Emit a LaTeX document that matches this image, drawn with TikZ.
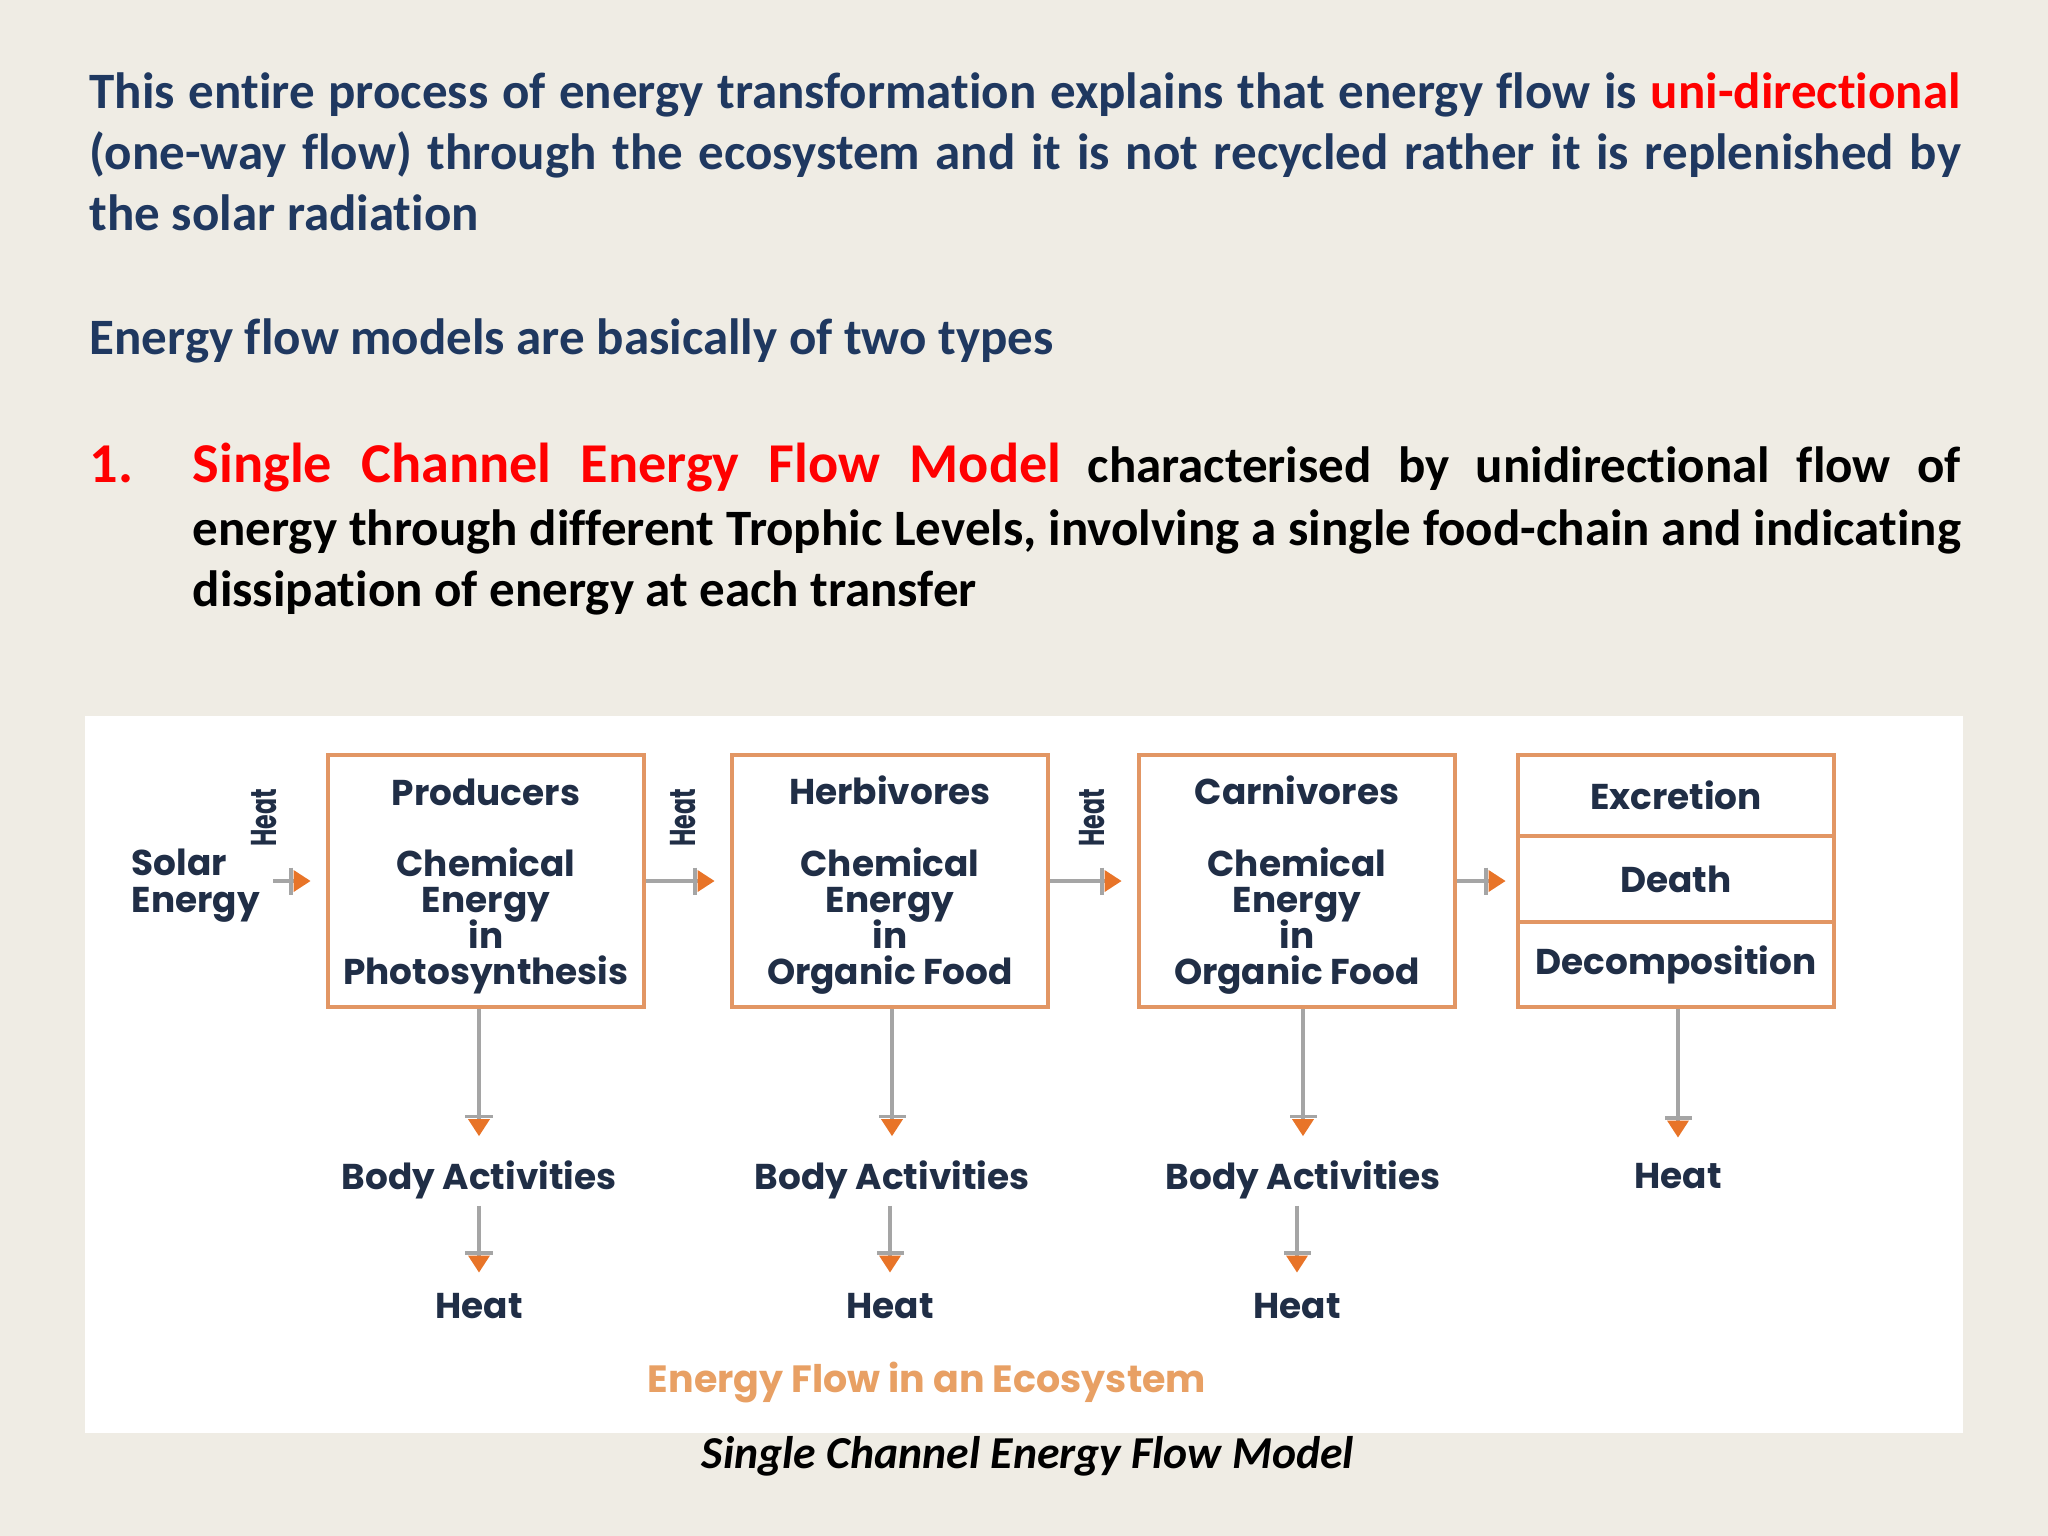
\documentclass[tikz,border=0pt]{standalone}
\usepackage{fontspec}
\usepackage{graphicx}
\setmainfont{Carlito}[Ligatures={TeX,NoCommon}]
\newfontfamily\diagfont{Poppins}
\usetikzlibrary{arrows.meta}
\newcommand{\mytight}{\setlength{\lineskiplimit}{-20pt}}
\definecolor{slidebg}{RGB}{239,236,228}
\definecolor{navy}{RGB}{31,56,96}
\definecolor{txtred}{RGB}{255,0,0}
\definecolor{boxline}{RGB}{226,150,100}
\definecolor{tipor}{RGB}{232,116,40}
\definecolor{linegray}{RGB}{165,165,165}
\definecolor{diagtext}{RGB}{32,46,70}
\definecolor{capor}{RGB}{232,160,100}
\begin{document}
\begin{tikzpicture}[x=0.01cm,y=-0.01cm,
  maintext/.style={anchor=base west,inner sep=0,font=\fontsize{14.5}{17}\selectfont\bfseries},
  stagebox/.style={draw=boxline,line width=1.3pt,fill=white,minimum width=3.16cm,minimum height=2.52cm,align=center,inner sep=0,font=\diagfont\bfseries\fontsize{10.2}{10.2}\selectfont\mytight,text=diagtext},
  subbox/.style={draw=boxline,line width=1.3pt,fill=white,minimum width=3.16cm,align=center,inner sep=0,font=\diagfont\bfseries\fontsize{10.2}{10.2}\selectfont,text=diagtext},
  dlabel/.style={inner sep=0,align=center,font=\diagfont\bfseries\fontsize{10.2}{10.6}\selectfont\mytight,text=diagtext},
  flow/.style={draw=linegray,line width=1pt,-{Bar[width=0.27cm,line width=1pt,color=linegray,sep=0.3pt] Triangle[length=0.17cm,width=0.21cm,color=tipor]}}
]
\useasboundingbox[fill=slidebg] (0,0) rectangle (2048,1536);

% ---------- slide text ----------
\node[maintext,text=navy] (p1a) at (89,108) {\makebox[18.7cm][s]{This entire process of energy transformation explains that energy flow is \textcolor{txtred}{uni-directional}}};
\node[maintext,text=navy] (p1b) at (89,169) {\makebox[18.7cm][s]{(one-way flow) through the ecosystem and it is not recycled rather it is replenished by}};
\node[maintext,text=navy] (p1c) at (89,230) {the solar radiation};
\node[maintext,text=navy] (p2) at (89,354) {Energy flow models are basically of two types};
\node[maintext,text=txtred,font=\fontsize{16}{19}\selectfont\bfseries] (num) at (89,482) {1.};
\node[maintext,text=black] (it1) at (192,482) {\makebox[17.67cm][s]{\textcolor{txtred}{\fontsize{16}{19}\selectfont Single Channel Energy Flow Model} characterised by unidirectional flow of}};
\node[maintext,text=black] (it2) at (192,545) {\makebox[17.67cm][s]{energy through different Trophic Levels, involving a single food-chain and indicating}};
\node[maintext,text=black] (it3) at (192,606) {dissipation of energy at each transfer};

% ---------- diagram ----------
\fill[white] (85,716) rectangle (1963,1433);

\node[stagebox] (prod) at (486,881) {\rule{0pt}{0.37cm}Producers\\[0.36cm]Chemical\\Energy\\in\\Photosynthesis};
\node[stagebox] (herb) at (890,881) {\rule{0pt}{0.37cm}Herbivores\\[0.36cm]Chemical\\Energy\\in\\Organic Food};
\node[stagebox] (carn) at (1297,881) {\rule{0pt}{0.37cm}Carnivores\\[0.36cm]Chemical\\Energy\\in\\Organic Food};
\node[subbox,minimum height=0.81cm] (exc) at (1676,795.5) {Excretion};
\node[subbox,minimum height=0.86cm] (death) at (1676,879) {Death};
\node[subbox,minimum height=0.85cm] (decomp) at (1676,964.5) {Decomposition};

\node[dlabel,anchor=west,align=left] (solar) at (131,886) {Solar\\Energy};
\node[dlabel,rotate=90] (h0) at (264,818) {\scalebox{0.66}[1]{Heat}};
\node[dlabel,rotate=90] (h1) at (683,818) {\scalebox{0.66}[1]{Heat}};
\node[dlabel,rotate=90] (h2) at (1092,818) {\scalebox{0.66}[1]{Heat}};

\draw[flow,shorten <=0.13cm,shorten >=0.15cm] (prod.west -| solar.east) -- (prod.west);
\draw[flow,shorten >=0.15cm] (prod.east) -- (herb.west);
\draw[flow,shorten >=0.15cm] (herb.east) -- (carn.west);
\draw[flow,shorten >=0.1cm] (carn.east) -- (carn.east -| death.west);

\node[dlabel] (ba1) at (479,1180) {Body Activities};
\node[dlabel] (ba2) at (892,1180) {Body Activities};
\node[dlabel] (ba3) at (1303,1180) {Body Activities};
\node[dlabel] (hr) at (1678,1176) {Heat};

\node[dlabel] (ht1) at (479,1306) {Heat};
\node[dlabel] (ht2) at (890,1306) {Heat};
\node[dlabel] (ht3) at (1297,1306) {Heat};

\draw[flow,shorten >=0.24cm] (ba1.north |- prod.south) -- (ba1.north);
\draw[flow,shorten >=0.24cm] (ba2.north |- herb.south) -- (ba2.north);
\draw[flow,shorten >=0.24cm] (ba3.north |- carn.south) -- (ba3.north);
\draw[flow,shorten >=0.25cm] (hr.north |- decomp.south) -- (hr.north);

\draw[flow,shorten <=0.06cm,shorten >=0.2cm] (ba1.south -| ht1.north) -- (ht1.north);
\draw[flow,shorten <=0.06cm,shorten >=0.2cm] (ba2.south -| ht2.north) -- (ht2.north);
\draw[flow,shorten <=0.06cm,shorten >=0.2cm] (ba3.south -| ht3.north) -- (ht3.north);

\node[inner sep=0,font=\diagfont\bfseries\fontsize{10.8}{12}\selectfont,text=capor] (dcap) at (927,1382) {Energy Flow in an Ecosystem};

\node[anchor=base,inner sep=0,font=\fontsize{13}{16}\selectfont\bfseries\itshape] (cap) at (1028,1468) {Single Channel Energy Flow Model};
\end{tikzpicture}
\end{document}
